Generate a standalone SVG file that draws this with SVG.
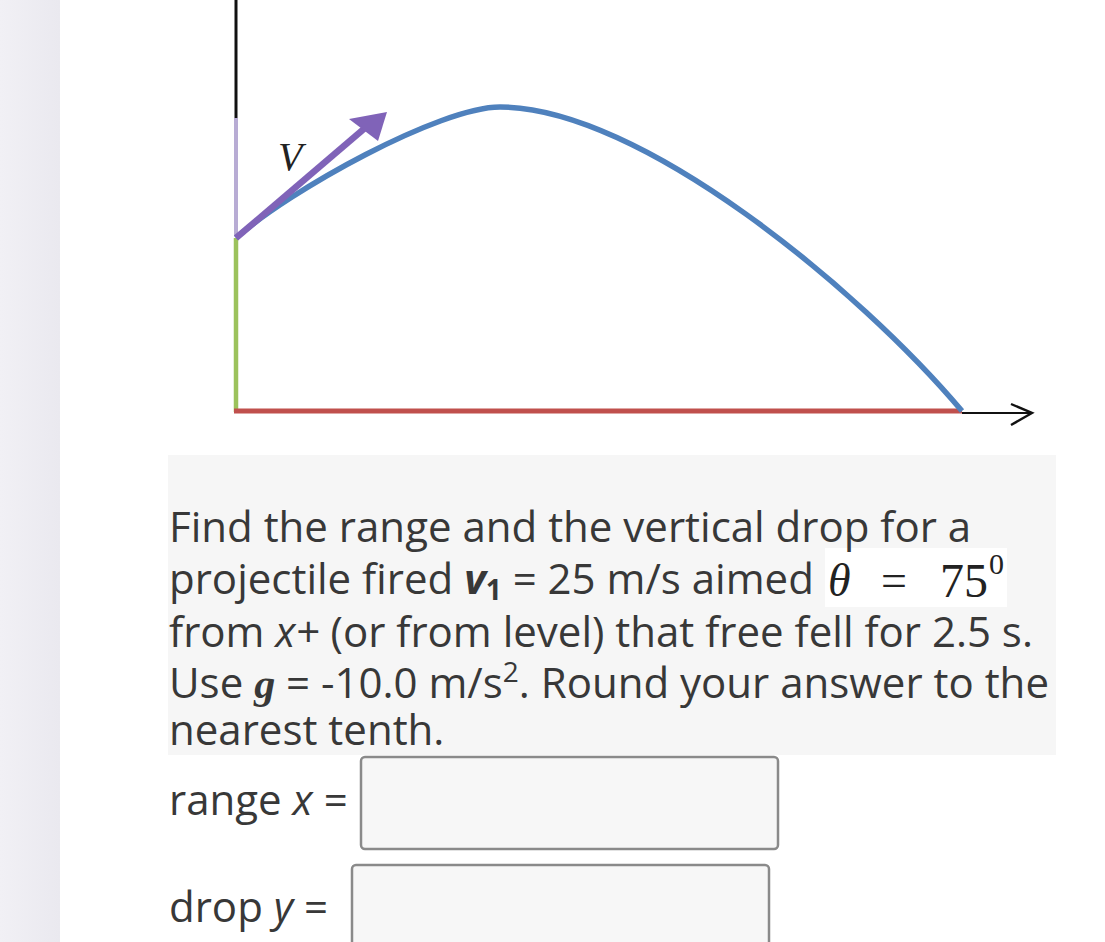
<svg xmlns="http://www.w3.org/2000/svg" width="1105" height="942" viewBox="0 0 1105 942">
<style>
.t{font-family:"Open Sans","Noto Sans",sans-serif;font-size:42px;fill:#383838}
.m{font-family:"Liberation Serif","DejaVu Serif",serif;fill:#222}
.box{fill:#f7f7f7;stroke:#8a8a8a;stroke-width:2.5}
</style>
<defs>
<linearGradient id="strip" x1="0" x2="1" y1="0" y2="0">
<stop offset="0" stop-color="#f1f0f5"/><stop offset="1" stop-color="#eae9ef"/>
</linearGradient>
</defs>
<rect x="0" y="0" width="1105" height="942" fill="#ffffff"/>
<rect x="0" y="0" width="60" height="942" fill="url(#strip)"/>

<g id="figure">
<line x1="236" y1="0" x2="236" y2="118" stroke="#111" stroke-width="3"/>
<line x1="236" y1="118" x2="236" y2="236" stroke="#b8acd4" stroke-width="4"/>
<line x1="236" y1="238" x2="236" y2="412" stroke="#9cc25c" stroke-width="4.5"/>
<line x1="962" y1="413" x2="1032" y2="413" stroke="#111" stroke-width="2.2"/>
<polyline points="1011,404 1032,413 1011,425" fill="none" stroke="#111" stroke-width="2.4"/>
<line x1="234" y1="411" x2="962" y2="411" stroke="#c0504d" stroke-width="5"/>
<path d="M236,238 C290,190 440,107 500,107 C640,107 860,290 962,411" fill="none" stroke="#4f81bd" stroke-width="5.5"/>
<line x1="236" y1="238" x2="372" y2="122" stroke="#8063b8" stroke-width="6.5"/>
<polygon points="387,112 349,119 378,141" fill="#8063b8"/>
<text x="278" y="170" class="m" font-size="40" font-style="italic" fill="#4e3f70">V</text>
</g>

<g id="question">
<rect x="168" y="455" width="888" height="300" fill="#f6f6f6"/>
<rect x="825" y="548" width="182" height="59" fill="#ffffff"/>
<text class="t" x="169" y="542">Find the range and the vertical drop for a</text>
<text class="t" x="169" y="594">projectile fired <tspan font-weight="bold" font-style="italic">v</tspan><tspan font-weight="bold" font-size="28" dy="6">1</tspan><tspan dy="-6"> = 25 m/s aimed</tspan></text>
<text class="m" x="828" y="596" font-size="46" font-style="italic">θ</text>
<text class="m" x="881" y="596" font-size="46">=</text>
<text class="m" x="940" y="597" font-size="48">75</text>
<text class="m" x="989" y="574" font-size="30">0</text>
<text class="t" x="169" y="647">from <tspan font-style="italic">x+</tspan><tspan dx="11">(or from level) that free fell for 2.5 s.</tspan></text>
<text class="t" x="169" y="698">Use <tspan font-family="Liberation Serif, serif" font-weight="bold" font-style="italic">g</tspan> = -10.0 m/s<tspan font-size="28" dy="-16">2</tspan><tspan dy="16">. Round your answer to the</tspan></text>
<text class="t" x="169" y="745">nearest tenth.</text>
</g>

<g id="range">
<text class="t" x="169" y="815" font-size="40">range <tspan font-style="italic">x</tspan> =</text>
<rect class="box" x="361" y="757" width="417" height="92" rx="4"/>
</g>
<g id="drop">
<text class="t" x="169" y="922" font-size="40">drop <tspan font-style="italic">y</tspan> =</text>
<rect class="box" x="352" y="865" width="417" height="90" rx="4"/>
</g>
</svg>
